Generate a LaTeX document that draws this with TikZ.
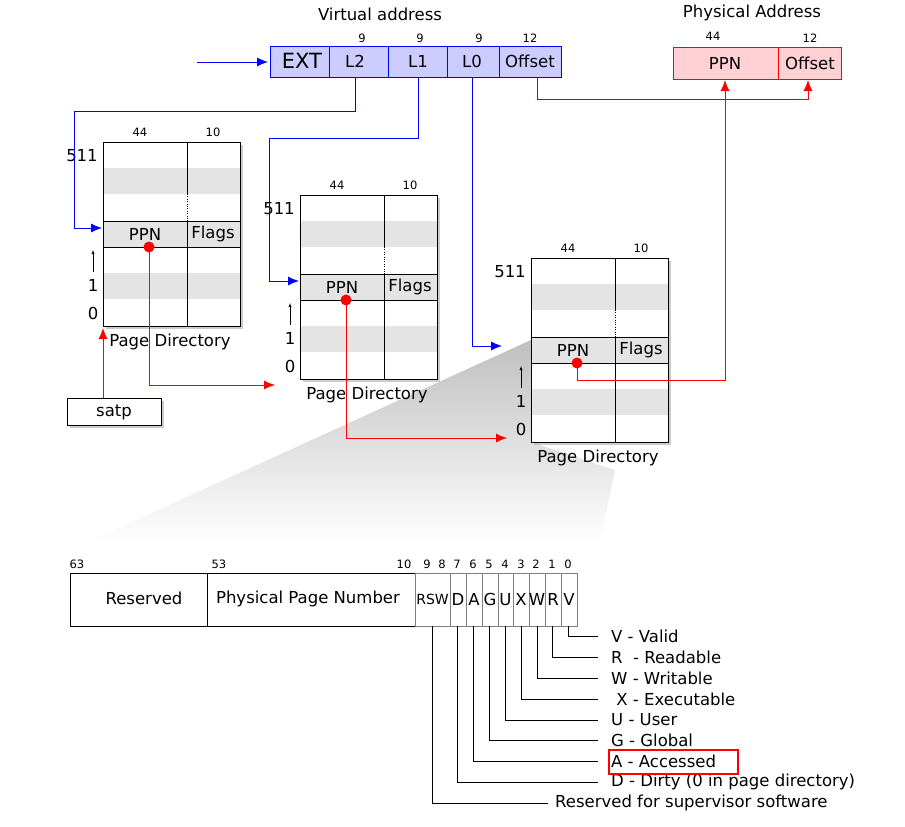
\documentclass[tikz,border=0pt]{standalone}
\usepackage{fontspec}
\setmainfont{DejaVu Sans}
\usetikzlibrary{shadows,arrows.meta}
\definecolor{vafill}{RGB}{204,204,255}
\definecolor{pafill}{RGB}{255,208,212}
\definecolor{stripe}{RGB}{228,228,228}
\tikzset{
 lbl/.style={font=\fontsize{16.5}{18}\selectfont,inner sep=0pt},
 num/.style={font=\fontsize{11.5}{12}\selectfont,inner sep=0pt},
 vcell/.style={draw=blue,fill=vafill,thick},
 pcell/.style={draw=red,fill=pafill,thick},
 bline/.style={blue,thick},
 rline/.style={red,thick},
 tip/.style={-{Latex[length=11pt,width=9pt]}},
 leader/.style={black,thin},
}
% one page directory, origin at its top left corner
\newcommand{\pagedir}[1]{%
 \fill[white,drop shadow={opacity=0.4}] (0,0) rectangle (137,184);
 \fill[stripe] (0,26) rectangle (137,52);
 \fill[stripe] (0,79) rectangle (137,105);
 \fill[stripe] (0,131) rectangle (137,157);
 \draw[thick] (0,0) rectangle (137,184);
 \draw[thick] (0,79) -- (137,79) (0,105) -- (137,105);
 \draw[thick] (84,0) -- (84,52) (84,79) -- (84,184);
 \draw[dotted] (84,52) -- (84,79);
 \node[lbl] at (42,92) {PPN};
 \node[lbl] at (110,92) {Flags};
 \node[num] at (37,-10) {44};
 \node[num] at (110,-10) {10};
 \node[lbl] at (-21,14) {511};
 \node[lbl] at (-10,143) {1};
 \node[lbl] at (-10,171) {0};
 \draw[-latex] (-10,130) -- (-10,108);
 \node[lbl] at (67,200) {Page Directory};
 \coordinate (#1in) at (0,86);
 \coordinate (#1dot) at (46,105);
 \fill[red] (#1dot) circle (5.5);
}
\begin{document}
\begin{tikzpicture}[x=1pt,y=-1pt]
\useasboundingbox (0,0) rectangle (905,827);

% zoom wedge
\shade[top color=black!25,bottom color=white] (531,340) -- (88,542) -- (600,542) -- (615,470) -- (531,442) -- cycle;

% virtual address
\node[lbl] (va) at (380,14) {Virtual address};
\draw[vcell] (270,46) rectangle (329,77);
\draw[vcell] (329,46) rectangle (388,77);
\draw[vcell] (388,46) rectangle (447,77);
\draw[vcell] (447,46) rectangle (499,77);
\draw[vcell] (499,46) rectangle (561,77);
\node[font=\fontsize{21}{22}\selectfont,inner sep=0pt] (ext) at (302,61) {EXT};
\node[lbl] (l2) at (355,61) {L2};
\node[lbl] (l1) at (418,61) {L1};
\node[lbl] (l0) at (472,61) {L0};
\node[lbl] (voff) at (530,61) {Offset};
\foreach \x/\n in {362/9,420/9,479/9,530/12}
 \node[num] at (\x,38) {\n};
\coordinate (vin) at (197,62);
\draw[bline,tip] (vin) -- (268,62);

% physical address
\node[lbl] (pa) at (752,13) {Physical Address};
\draw[pcell] (673,47) rectangle (778,79);
\draw[pcell] (778,47) rectangle (841,79);
\node[lbl] (pppn) at (725,63) {PPN};
\node[lbl] (poff) at (810,63) {Offset};
\node[num] at (713,36) {44};
\node[num] at (810,38) {12};

% page directories
\begin{scope}[shift={(103,142)}]\pagedir{a}\end{scope}
\begin{scope}[shift={(300,195)}]\pagedir{b}\end{scope}
\begin{scope}[shift={(531,258)}]\pagedir{c}\end{scope}

% satp
\node[draw,thick,fill=white,drop shadow={opacity=0.4},minimum width=94,minimum height=27,lbl] (satp) at (114,412) {satp};

% blue connectors
\draw[bline,tip] (355,77) |- (74,111) |- ([xshift=-1pt]ain);
\draw[bline,tip] (418,77) |- (269,138) |- ([xshift=-1pt]bin);
\draw[bline,tip] (472,77) |- (502,346);
\draw[thick,violet!60!red] (537,77) |- (800,99);
\draw[thick,red,tip] (800,99) -- (808,99) -- (808,80);

% red connectors
\draw[rline,tip] ([xshift=-11pt]satp.north) -- (103,328);
\draw[rline,tip] (adot) |- (275,385);
\draw[rline,tip] (bdot) |- (507,438);
\draw[rline,tip] (cdot) |- (725,380) -- (725,80);

% page table entry
\draw[thick] (70,573) rectangle (207,626) (207,573) -- (415,573) (207,626) -- (415,626);
\node[lbl] (res) at (144,598) {Reserved};
\node[lbl] (ppn) at (308,599) {Physical Page Number};
\foreach \a/\b/\t in {450/466/D,466/482/A,482/498/G,498/513/U,513/529/X,529/545/W,545/561/R,561/577/V}
 \draw[gray,thick] (\a,573) rectangle (\b,626) node[midway,black,lbl] {\t};
\draw[gray,thick] (415,573) rectangle (450,626) node[midway,black,font=\fontsize{14}{15}\selectfont,inner sep=0pt] {RSW};
\foreach \x/\n in {77/63,219/53,404/10,427/9,442/8,457/7,473/6,489/5,505/4,521/3,536/2,552/1,568/0}
 \node[num] at (\x,564) {\n};
\foreach \x/\y/\t in {568/636/V - Valid,552/657/R\ \ - Readable,537/678/W - Writable,521/699/\ X - Executable,505/720/U - User,489/740/G - Global,473/761/A - Accessed,457/782/D - Dirty (0 in page directory)}
 \draw[leader] (\x,626) |- (598,\y) node[right=13pt,lbl,text=black] {\t};
\draw[leader] (432,626) |- (548,803) node[right=7pt,lbl] {Reserved for supervisor software};
\draw[red,very thick] (609,750) rectangle (738,774);
\end{tikzpicture}
\end{document}
